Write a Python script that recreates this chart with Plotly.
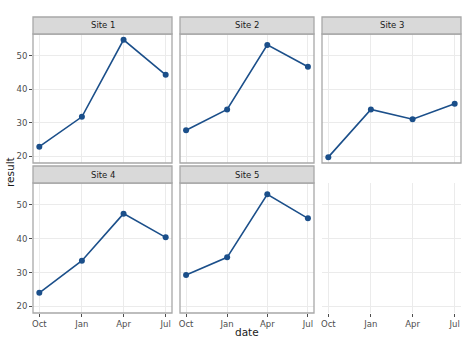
import pandas as pd
import plotly.graph_objects as go

# Sampling dates and measured results per site
dates = ["2020-10-01", "2021-01-01", "2021-04-01", "2021-07-01"]
sites = ["Site 1", "Site 2", "Site 3", "Site 4", "Site 5"]
site1 = [22.9, 31.8, 54.7, 44.3]
site2 = [27.8, 34.0, 53.2, 46.7]
site3 = [19.8, 34.0, 31.1, 35.7]
site4 = [24.0, 33.5, 47.4, 40.4]
site5 = [29.3, 34.5, 53.1, 46.0]
values = [site1, site2, site3, site4, site5]

y_ticks = [20, 30, 40, 50]
x_tick_text = ["Oct", "Jan", "Apr", "Jul"]

W, H = 474, 347
LINE = "#1b4f8a"
GRID = "#ebebeb"
BORDER = "#a8a8a8"
STRIP = "#d9d9d9"
FONT = "DejaVu Sans"
TICK_SIZE = 8.5

# Panel geometry in pixels (left, right) and (top, bottom)
cols = [(33, 172), (180, 314), (322, 461)]
rows = [(34, 163), (183, 313)]
strip_h = 17

def px_x(p):
    return p / W

def px_y(p):
    return 1 - p / H

# Shared scales with 5% expansion on each side
d = pd.to_datetime(dates)
span = d.max() - d.min()
x_range = [d.min() - span * 0.05, d.max() + span * 0.05]
all_vals = [v for s in values for v in s]
lo, hi = min(all_vals), max(all_vals)
pad = (hi - lo) * 0.05
y_range = [lo - pad, hi + pad]

fig = go.Figure()
shapes = []
annotations = []

for k in range(6):
    r, c = divmod(k, 3)
    xl, xr = cols[c]
    yt, yb = rows[r]
    sfx = "" if k == 0 else str(k + 1)
    show_x_labels = (r == 1)
    show_y_labels = (c == 0)

    fig.layout["xaxis" + sfx] = dict(
        domain=[px_x(xl), px_x(xr)], anchor="y" + sfx, type="date",
        range=x_range, tickvals=d, ticktext=x_tick_text,
        showgrid=True, gridcolor=GRID, gridwidth=1, zeroline=False,
        showticklabels=show_x_labels,
        ticks="outside" if show_x_labels else "", ticklen=3, tickwidth=1,
        tickcolor="#4d4d4d", showline=False,
        tickfont=dict(family=FONT, size=TICK_SIZE, color="#4d4d4d"),
    )
    fig.layout["yaxis" + sfx] = dict(
        domain=[px_y(yb), px_y(yt)], anchor="x" + sfx,
        range=y_range, tickvals=y_ticks,
        showgrid=True, gridcolor=GRID, gridwidth=1, zeroline=False,
        showticklabels=show_y_labels,
        ticks="outside" if show_y_labels else "", ticklen=3, tickwidth=1,
        tickcolor="#4d4d4d", showline=False,
        tickfont=dict(family=FONT, size=TICK_SIZE, color="#4d4d4d"),
    )

    if k < len(sites):
        fig.add_trace(go.Scatter(
            x=d, y=values[k], mode="lines+markers",
            line=dict(color=LINE, width=1.6),
            marker=dict(color=LINE, size=6),
            xaxis="x" + sfx, yaxis="y" + sfx,
            showlegend=False, hoverinfo="x+y",
        ))
        # panel border
        shapes.append(dict(
            type="rect", xref="paper", yref="paper",
            x0=px_x(xl), x1=px_x(xr), y0=px_y(yb), y1=px_y(yt),
            line=dict(color=BORDER, width=1.3), fillcolor="rgba(0,0,0,0)",
            layer="above",
        ))
        # facet strip
        shapes.append(dict(
            type="rect", xref="paper", yref="paper",
            x0=px_x(xl), x1=px_x(xr), y0=px_y(yt), y1=px_y(yt - strip_h),
            line=dict(color=BORDER, width=1.3), fillcolor=STRIP,
            layer="above",
        ))
        annotations.append(dict(
            text=sites[k], xref="paper", yref="paper",
            x=px_x((xl + xr) / 2), y=px_y(yt - strip_h / 2),
            xanchor="center", yanchor="middle", showarrow=False,
            font=dict(family=FONT, size=TICK_SIZE, color="#1a1a1a"),
        ))
    else:
        # empty facet slot: an empty trace keeps its grid and date axis drawn
        fig.add_trace(go.Scatter(
            x=[], y=[], mode="markers",
            xaxis="x" + sfx, yaxis="y" + sfx,
            showlegend=False, hoverinfo="skip",
        ))

annotations.append(dict(
    text="date", xref="paper", yref="paper",
    x=px_x(247), y=px_y(332), xanchor="center", yanchor="middle",
    showarrow=False, font=dict(family=FONT, size=10.5, color="#1a1a1a"),
))
annotations.append(dict(
    text="result", xref="paper", yref="paper",
    x=px_x(10), y=px_y(172), xanchor="center", yanchor="middle",
    textangle=-90, showarrow=False,
    font=dict(family=FONT, size=10.5, color="#1a1a1a"),
))

fig.update_layout(
    width=W, height=H,
    margin=dict(l=0, r=0, t=0, b=0),
    paper_bgcolor="white", plot_bgcolor="white",
    shapes=shapes, annotations=annotations,
    font=dict(family=FONT),
)

fig.write_html("out.html", config={"displayModeBar": False})
